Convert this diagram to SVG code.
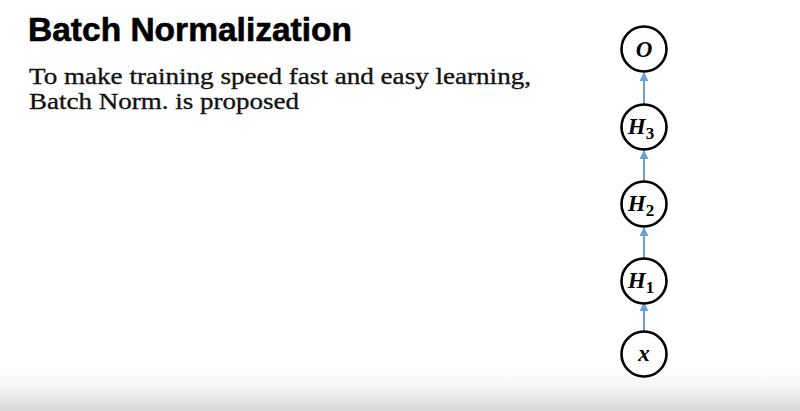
<svg xmlns="http://www.w3.org/2000/svg" width="800" height="411" viewBox="0 0 800 411">
  <defs>
    <linearGradient id="bottomFade" x1="0" y1="0" x2="0" y2="1">
      <stop offset="0" stop-color="#ffffff"/>
      <stop offset="0.45" stop-color="#f7f7f7"/>
      <stop offset="1" stop-color="#d8d8d8"/>
    </linearGradient>
    <marker id="arrowHead" viewBox="0 0 10 10" refX="9" refY="5" markerWidth="4.5" markerHeight="4.5" orient="auto" markerUnits="strokeWidth">
      <path d="M0,0 L10,5 L0,10 z" fill="#6a9fd8"/>
    </marker>
  </defs>
  <style>
    .title { font-family: "Liberation Sans", Arial, sans-serif; font-weight: bold; font-size: 33px; fill: #000; stroke: #000; stroke-width: 0.6; }
    .body { font-family: "Liberation Serif", "Times New Roman", serif; font-size: 24px; fill: #111; stroke: #111; stroke-width: 0.35; }
    .node circle { fill: #fff; stroke: #000; stroke-width: 2.6; }
    .node text { font-family: "Liberation Serif", "Times New Roman", serif; font-style: italic; font-weight: bold; font-size: 23px; fill: #000; text-anchor: middle; }
    .node .sub { font-style: normal; font-size: 17px; }
    .conn line { stroke: #6a9fd8; stroke-width: 2; marker-end: url(#arrowHead); }
  </style>
  <rect x="0" y="0" width="800" height="411" fill="#ffffff"/>
  <rect x="0" y="365" width="800" height="46" fill="url(#bottomFade)"/>

  <text class="title" x="28" y="41" textLength="324" lengthAdjust="spacingAndGlyphs">Batch Normalization</text>
  <text class="body" x="29" y="84" textLength="502" lengthAdjust="spacingAndGlyphs">To make training speed fast and easy learning,</text>
  <text class="body" x="29" y="109" textLength="270" lengthAdjust="spacingAndGlyphs">Batch Norm. is proposed</text>

  <g id="connectors" class="conn">
    <line x1="644" y1="331" x2="644" y2="303"/>
    <line x1="644" y1="258" x2="644" y2="228"/>
    <line x1="644" y1="181" x2="644" y2="151"/>
    <line x1="644" y1="104" x2="644" y2="73"/>
  </g>

  <g id="node-O" class="node">
    <circle cx="644" cy="49" r="22.5"/>
    <text x="644" y="57">O</text>
  </g>
  <g id="node-H3" class="node">
    <circle cx="644" cy="127" r="22.5"/>
    <text x="641" y="134">H<tspan class="sub" dy="5">3</tspan></text>
  </g>
  <g id="node-H2" class="node">
    <circle cx="644" cy="204" r="22.5"/>
    <text x="641" y="211">H<tspan class="sub" dy="5">2</tspan></text>
  </g>
  <g id="node-H1" class="node">
    <circle cx="644" cy="281" r="22.5"/>
    <text x="641" y="288">H<tspan class="sub" dy="5">1</tspan></text>
  </g>
  <g id="node-x" class="node">
    <circle cx="644" cy="354" r="22.5"/>
    <text x="644" y="361">x</text>
  </g>
</svg>
